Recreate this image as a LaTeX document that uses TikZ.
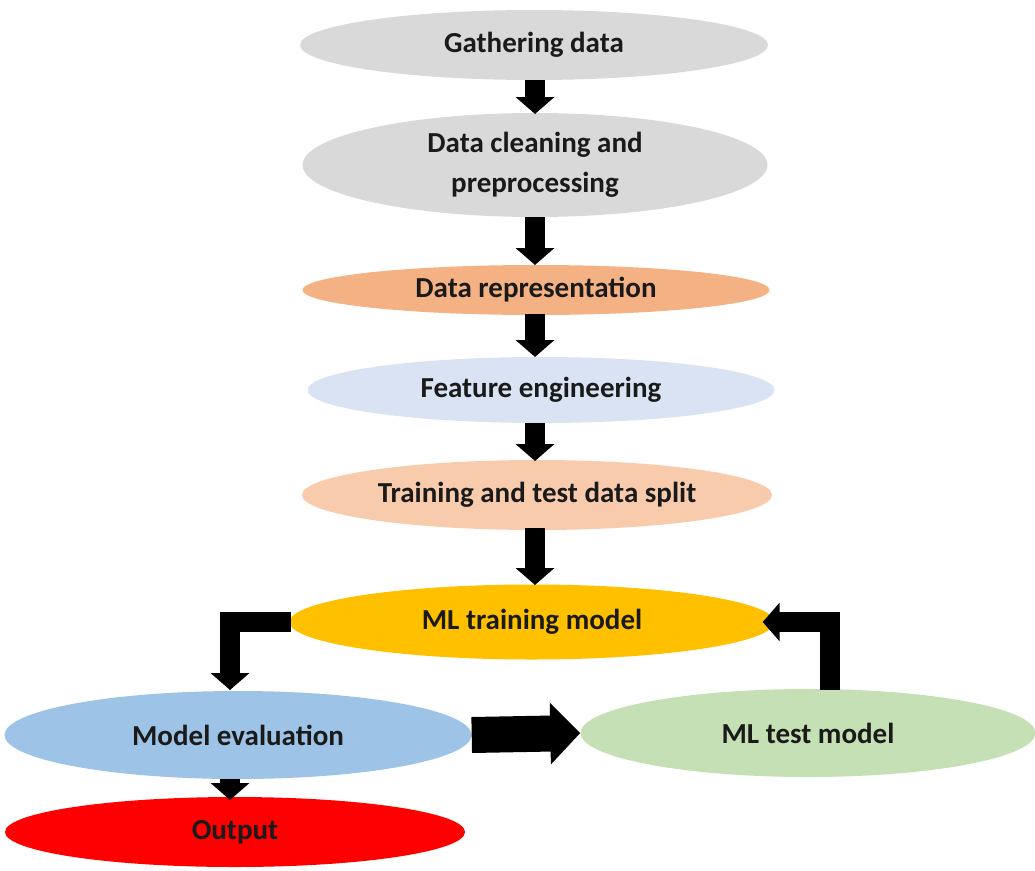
\documentclass[tikz,border=0pt]{standalone}
\usepackage{fontspec}
\setmainfont{Carlito}
\usetikzlibrary{shapes.geometric,arrows.meta}
\definecolor{cgray}{HTML}{D9D9D9}
\definecolor{corange}{HTML}{F4B183}
\definecolor{clblue}{HTML}{DAE3F3}
\definecolor{cpeach}{HTML}{F8CBAD}
\definecolor{cgold}{HTML}{FFC000}
\definecolor{cblue}{HTML}{9DC3E6}
\definecolor{cgreen}{HTML}{C5E0B4}
\definecolor{ctext}{HTML}{1A1A1A}
\tikzset{
  el/.style={ellipse,inner sep=0pt,align=center,font=\fontsize{29}{40}\selectfont\bfseries,text=ctext},
  blk/.style={line width=20pt,-{Triangle[width=38pt,length=17pt]}},
}
\begin{document}
\begin{tikzpicture}[x=1pt,y=-1pt]
\useasboundingbox (0,0) rectangle (1035,870);
\node[el,fill=cgray,minimum width=468pt,minimum height=70pt] (g) at (534,45) {Gathering data};
\node[el,fill=cgray,minimum width=465pt,minimum height=104pt] (c) at (535,165) {Data cleaning and\\preprocessing};
\node[el,fill=corange,minimum width=467pt,minimum height=50pt] (r) at (536,290) {Data representation};
\node[el,fill=clblue,minimum width=467pt,minimum height=66pt] (f) at (541,390) {Feature engineering};
\node[el,fill=cpeach,minimum width=470pt,minimum height=70pt] (t) at (537,495) {Training and test data split};
\node[el,fill=cgold,minimum width=485pt,minimum height=75pt] (m) at (532,622) {ML training model};
\node[el,fill=cblue,minimum width=467pt,minimum height=88pt] (e) at (238,735) {Model evaluation};
\node[el,fill=cgreen,minimum width=455pt,minimum height=88pt] (s) at (808,733) {ML test model};
\node[el,fill=red,minimum width=460pt,minimum height=70pt] (o) at (235,832) {Output};
\draw[blk] (535,80) -- (535,114);
\draw[blk] (535,217) -- (535,265);
\draw[blk] (535,314) -- (535,357);
\draw[blk] (535,423) -- (535,461);
\draw[blk] (535,528) -- (535,585);
\coordinate (ml) at (m.west);
\coordinate (a1) at (230,690);
\draw[blk] ([xshift=2pt]ml) -| (a1);
\coordinate (mr) at (m.east);
\coordinate (b1) at (830,690);
\draw[blk] (b1) |- ([xshift=-12pt]mr);
\draw[line width=36pt,-{Triangle[width=60pt,length=30pt]}] (e.east) -- (s.west);
\coordinate (o1) at (230,800);
\draw[blk] (230,779) -- (o1);
\end{tikzpicture}
\end{document}
